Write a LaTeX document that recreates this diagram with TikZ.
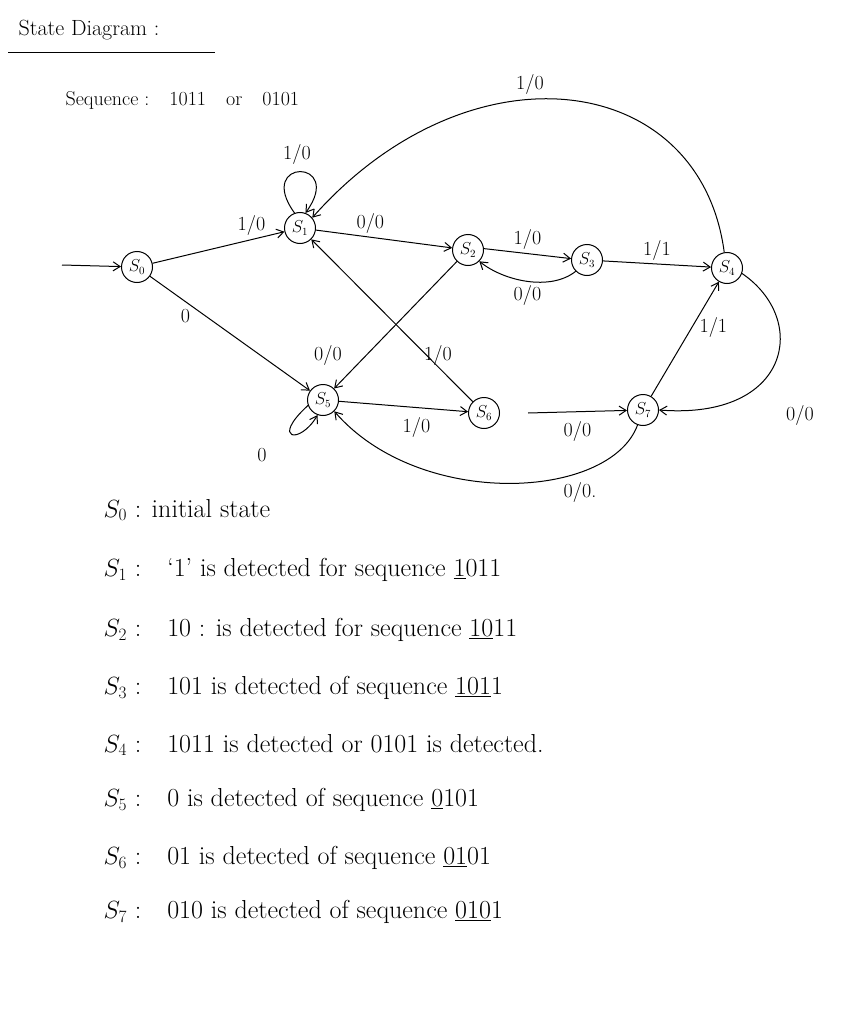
\documentclass[tikz,border=0pt]{standalone}
\usetikzlibrary{arrows.meta}
\begin{document}
\begin{tikzpicture}[x=1pt,y=-1pt,
 st/.style={draw,circle,line width=1pt,minimum size=31pt,inner sep=0pt,font=\fontsize{16}{18}\selectfont},
 ed/.style={draw,line width=1pt,-{Straight Barb[length=7pt,width=9pt]}},
 lb/.style={font=\fontsize{20}{22}\selectfont},
 tx/.style={anchor=west,font=\fontsize{26}{30}\selectfont}]
\useasboundingbox (0,0) rectangle (845,1024);
\node[anchor=west,font=\fontsize{22}{26}\selectfont] (title) at (15,30) {State Diagram :};
\draw[line width=0.8pt] (8,52) -- (215,52);
\node[anchor=west,font=\fontsize{20}{24}\selectfont] (seq) at (62,100) {Sequence :\quad 1011\quad or\quad 0101};
\node[st] (s0) at (137,267) {$S_0$};
\node[st] (s1) at (300,228) {$S_1$};
\node[st] (s2) at (468,250) {$S_2$};
\node[st] (s3) at (587,260) {$S_3$};
\node[st] (s4) at (727,268) {$S_4$};
\node[st] (s5) at (323,400) {$S_5$};
\node[st] (s6) at (484,413) {$S_6$};
\node[st] (s7) at (643,410) {$S_7$};
\coordinate (init) at (62,265);
\draw[ed] (init) -- (s0);
\draw[ed] (s0) -- node[lb,above,pos=0.75]{1/0} (s1);
\draw[ed] (s0) -- node[lb,left,pos=0.35,xshift=-12pt]{0} (s5);
\draw[ed] (s1.110) .. controls +(-40,-55) and +(40,-55) .. (s1.70);
\node[lb] (l11) at (297,155) {1/0};
\draw[ed] (s1) -- node[lb,above,pos=0.4]{0/0} (s2);
\draw[ed] (s2.5) -- node[lb,above]{1/0} (s3.175);
\draw[ed] (s3.-135) .. controls +(-25,20) and +(25,20) .. node[lb,below]{0/0} (s2.-45);
\draw[ed] (s3) -- node[lb,above]{1/1} (s4);
\draw[ed] (s4.100) .. controls (700,70) and (470,40) .. (s1.40);
\node[lb] (l41) at (530,85) {1/0};
\draw[ed] (s2) -- (s5);
\node[lb] (l25) at (328,355) {0/0};
\draw[ed] (s6) -- (s1);
\node[lb] (l61) at (438,355) {1/0};
\draw[ed] (s5) -- node[lb,below,pos=0.6,yshift=-6pt]{1/0} (s6);
\coordinate (s6o) at (528,413);
\draw[ed] (s6o) -- node[lb,below,yshift=-6pt]{0/0} (s7);
\draw[ed] (s7) -- node[lb,right,pos=0.6,xshift=4pt]{1/1} (s4);
\draw[ed] (s4.-20) .. controls (810,320) and (790,420) .. (s7.0);
\node[lb] (l47) at (800,415) {0/0};
\draw[ed] (s7.-110) .. controls (610,500) and (420,510) .. (s5.-45);
\node[lb] (l75) at (580,492) {0/0.};
\draw[ed] (s5.200) .. controls (270,440) and (300,445) .. (s5.-110);
\node[lb] (l55) at (262,455) {0};
\node[tx] (t0) at (100,510) {$S_0$ : initial state};
\node[tx] (t1) at (100,570) {$S_1$ :\quad `1' is detected for sequence \underline{1}011};
\node[tx] (t2) at (100,630) {$S_2$ :\quad 10 : is detected for sequence \underline{10}11};
\node[tx] (t3) at (100,688) {$S_3$ :\quad 101 is detected of sequence \underline{101}1};
\node[tx] (t4) at (100,745) {$S_4$ :\quad 1011 is detected or 0101 is detected.};
\node[tx] (t5) at (100,800) {$S_5$ :\quad 0 is detected of sequence \underline{0}101};
\node[tx] (t6) at (100,858) {$S_6$ :\quad 01 is detected of sequence \underline{01}01};
\node[tx] (t7) at (100,912) {$S_7$ :\quad 010 is detected of sequence \underline{010}1};
\end{tikzpicture}
\end{document}
